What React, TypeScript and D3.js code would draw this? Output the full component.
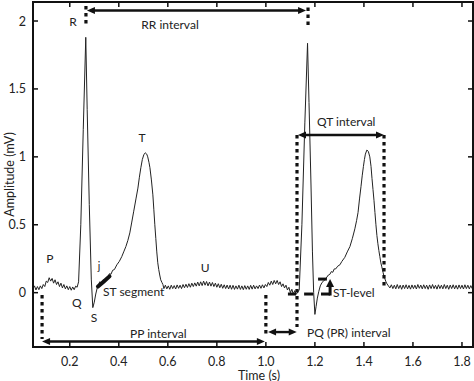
import React from "react";
import * as d3 from "d3";

// ECG trace samples: [time (s), amplitude (mV)]
const ecgSamples: [number, number][] = [
  [0.05, 0.03], [0.056, 0.05], [0.062, 0.02], [0.068, 0.045], [0.074, 0.022], [0.08, 0.05],
  [0.086, 0.03], [0.092, 0.06], [0.098, 0.045], [0.104, 0.085], [0.11, 0.075], [0.116, 0.11],
  [0.122, 0.085], [0.128, 0.105], [0.134, 0.07], [0.14, 0.095], [0.146, 0.06], [0.152, 0.08],
  [0.158, 0.045], [0.164, 0.07], [0.17, 0.035], [0.176, 0.06], [0.182, 0.028], [0.188, 0.05],
  [0.194, 0.022], [0.2, 0.045], [0.206, 0.018], [0.212, 0.042], [0.218, 0.022], [0.224, 0.048],
  [0.23, 0.04],
  // QRS 1
  [0.236, 0.08], [0.245, 0.5], [0.255, 1.2], [0.2653, 1.88], [0.271, 1.35], [0.2796, 0.65],
  [0.2878, 0.1], [0.294, -0.11], [0.3, -0.07], [0.306, -0.01], [0.312, 0.035], [0.318, 0.06],
  [0.322, 0.08],
  // ST / T 1
  [0.33, 0.07], [0.336, 0.095], [0.342, 0.085], [0.348, 0.11], [0.355, 0.115], [0.362, 0.14],
  [0.368, 0.135], [0.375, 0.165], [0.382, 0.17], [0.392, 0.205], [0.402, 0.23], [0.412, 0.265],
  [0.42, 0.3], [0.429, 0.34], [0.437, 0.385], [0.445, 0.44], [0.453, 0.52], [0.461, 0.6],
  [0.47, 0.69], [0.478, 0.77], [0.484, 0.85], [0.49, 0.92], [0.496, 0.98], [0.502, 1.015],
  [0.508, 1.03], [0.514, 1.02], [0.518, 1.0], [0.523, 0.96], [0.527, 0.92], [0.533, 0.83],
  [0.539, 0.72], [0.543, 0.61], [0.547, 0.5], [0.551, 0.4], [0.555, 0.3], [0.559, 0.22],
  [0.563, 0.17], [0.567, 0.13], [0.571, 0.095], [0.576, 0.075], [0.58, 0.06],
  // baseline + U wave
  [0.584, 0.03], [0.59, 0.055], [0.596, 0.028], [0.602, 0.05], [0.608, 0.025], [0.614, 0.055],
  [0.62, 0.03], [0.626, 0.052], [0.632, 0.027], [0.638, 0.057], [0.644, 0.032], [0.65, 0.055],
  [0.656, 0.03], [0.662, 0.06], [0.668, 0.036], [0.674, 0.062], [0.68, 0.038], [0.686, 0.066],
  [0.692, 0.04], [0.698, 0.07], [0.704, 0.045], [0.71, 0.072], [0.716, 0.048], [0.722, 0.078],
  [0.728, 0.05], [0.734, 0.08], [0.74, 0.052], [0.746, 0.085], [0.752, 0.055], [0.758, 0.082],
  [0.764, 0.05], [0.77, 0.078], [0.776, 0.048], [0.782, 0.075], [0.788, 0.045], [0.794, 0.07],
  [0.8, 0.04], [0.806, 0.066], [0.812, 0.036], [0.818, 0.062], [0.824, 0.032], [0.83, 0.058],
  [0.836, 0.03], [0.842, 0.056], [0.848, 0.027], [0.854, 0.055], [0.86, 0.025], [0.866, 0.054],
  [0.872, 0.024], [0.878, 0.05], [0.884, 0.026], [0.89, 0.055], [0.896, 0.024], [0.902, 0.05],
  [0.908, 0.022], [0.914, 0.052], [0.92, 0.025], [0.926, 0.05], [0.932, 0.024], [0.938, 0.054],
  [0.944, 0.026], [0.95, 0.055], [0.956, 0.028], [0.962, 0.05], [0.968, 0.03], [0.974, 0.056],
  [0.98, 0.032], [0.986, 0.058], [0.992, 0.035], [0.998, 0.06],
  // P 2
  [1.004, 0.045], [1.01, 0.075], [1.016, 0.055], [1.022, 0.085], [1.028, 0.06], [1.034, 0.09],
  [1.04, 0.065], [1.046, 0.09], [1.052, 0.06], [1.058, 0.08], [1.064, 0.045], [1.07, 0.065],
  [1.076, 0.035], [1.082, 0.055], [1.088, 0.02], [1.094, 0.04], [1.1, 0.0], [1.106, 0.025],
  [1.112, -0.01], [1.118, 0.015], [1.124, -0.012], [1.13, 0.005],
  // QRS 2
  [1.136, 0.02], [1.147, 0.5], [1.159, 1.25], [1.17, 1.836], [1.176, 1.4], [1.184, 0.8],
  [1.19, 0.3], [1.195, 0.0], [1.2, -0.16], [1.205, -0.1], [1.21, -0.04], [1.216, 0.01],
  [1.222, 0.05], [1.229, 0.075], [1.235, 0.085], [1.241, 0.095],
  // ST / T 2
  [1.249, 0.115], [1.255, 0.13], [1.261, 0.135], [1.267, 0.155], [1.273, 0.15], [1.279, 0.175],
  [1.285, 0.175], [1.293, 0.195], [1.302, 0.205], [1.31, 0.23], [1.322, 0.26], [1.332, 0.3],
  [1.343, 0.34], [1.353, 0.4], [1.363, 0.47], [1.37, 0.53], [1.376, 0.59], [1.382, 0.69],
  [1.388, 0.78], [1.393, 0.86], [1.398, 0.93], [1.402, 0.98], [1.406, 1.02], [1.412, 1.05],
  [1.418, 1.04], [1.424, 1.0], [1.429, 0.93], [1.433, 0.84], [1.437, 0.76], [1.441, 0.68],
  [1.445, 0.59], [1.449, 0.5], [1.453, 0.42], [1.457, 0.36], [1.461, 0.31], [1.465, 0.265],
  [1.469, 0.22], [1.473, 0.19], [1.478, 0.15], [1.482, 0.12], [1.486, 0.1], [1.49, 0.08],
  [1.494, 0.065], [1.5, 0.05],
  // baseline
  [1.506, 0.035], [1.512, 0.058], [1.518, 0.03], [1.524, 0.055], [1.53, 0.028], [1.536, 0.06],
  [1.542, 0.03], [1.548, 0.055], [1.554, 0.025], [1.56, 0.056], [1.566, 0.03], [1.572, 0.058],
  [1.578, 0.028], [1.584, 0.054], [1.59, 0.026], [1.596, 0.057], [1.602, 0.03], [1.608, 0.055],
  [1.614, 0.027], [1.62, 0.06], [1.626, 0.032], [1.632, 0.056], [1.638, 0.028], [1.644, 0.058],
  [1.65, 0.03], [1.656, 0.055], [1.662, 0.025], [1.668, 0.057], [1.674, 0.03], [1.68, 0.06],
  [1.686, 0.03], [1.692, 0.054], [1.698, 0.026], [1.704, 0.058], [1.71, 0.03], [1.716, 0.055],
  [1.722, 0.028], [1.728, 0.06], [1.734, 0.03], [1.74, 0.055], [1.746, 0.025], [1.752, 0.056],
  [1.758, 0.03], [1.764, 0.058], [1.77, 0.028], [1.776, 0.054], [1.782, 0.026], [1.788, 0.057],
  [1.794, 0.03], [1.8, 0.055], [1.806, 0.027], [1.812, 0.058], [1.818, 0.03], [1.824, 0.055],
  [1.83, 0.028], [1.836, 0.052], [1.842, 0.03], [1.845, 0.04],
];

const xTicks = [0.2, 0.4, 0.6, 0.8, 1.0, 1.2, 1.4, 1.6, 1.8];
const yTicks = [0, 0.5, 1, 1.5, 2];

// Interval arrows (double-headed), in data coordinates
const intervalArrows = [
  { name: "RR", t0: 0.27, t1: 1.164, v: 2.077 },
  { name: "PP", t0: 0.087, t1: 0.996, v: -0.36 },
  { name: "PQ", t0: 1.009, t1: 1.126, v: -0.29 },
  { name: "QT", t0: 1.131, t1: 1.482, v: 1.161 },
];

// Dotted guide lines
const dottedGuides = [
  { t: 0.266, v0: 2.11, v1: 1.956 },
  { t: 1.172, v0: 2.1, v1: 1.956 },
  { t: 0.087, v0: -0.017, v1: -0.341 },
  { t: 1.0, v0: -0.017, v1: -0.326 },
  { t: 1.127, v0: 1.161, v1: -0.253 },
  { t: 1.482, v0: 1.161, v1: 0.042 },
];

// ST-level marks
const stLevelDashes = [
  { t0: 1.09, t1: 1.123, v: -0.01 },
  { t0: 1.156, t1: 1.193, v: -0.01 },
  { t0: 1.225, t1: 1.262, v: -0.01 },
  { t0: 1.213, t1: 1.249, v: 0.1 },
];
const stLevelArrow = { t: 1.262, v0: -0.01, v1: 0.1 };
const stSegmentMark: [number, number][] = [[0.315, 0.045], [0.339, 0.082], [0.362, 0.12]];

const waveLabels = [
  { text: "R", t: 0.213, v: 2.0, anchor: "middle", size: 12 },
  { text: "RR interval", t: 0.609, v: 1.971, anchor: "middle", size: 12 },
  { text: "T", t: 0.495, v: 1.146, anchor: "middle", size: 12 },
  { text: "P", t: 0.119, v: 0.255, anchor: "middle", size: 12 },
  { text: "Q", t: 0.229, v: -0.069, anchor: "middle", size: 12 },
  { text: "S", t: 0.299, v: -0.186, anchor: "middle", size: 12 },
  { text: "j", t: 0.319, v: 0.196, anchor: "middle", size: 10.5 },
  { text: "ST segment", t: 0.336, v: 0.012, anchor: "start", size: 12 },
  { text: "U", t: 0.752, v: 0.182, anchor: "middle", size: 12 },
  { text: "PP interval", t: 0.446, v: -0.297, anchor: "start", size: 12 },
  { text: "PQ (PR) interval", t: 1.168, v: -0.29, anchor: "start", size: 12 },
  { text: "QT interval", t: 1.209, v: 1.257, anchor: "start", size: 12 },
  { text: "ST-level", t: 1.274, v: -0.002, anchor: "start", size: 12 },
];

export default function App() {
  const W = 474;
  const H = 381;
  const left = 33, right = 473, top = 2, bottom = 347;
  const x = d3.scaleLinear().domain([0.05, 1.845]).range([left, right]);
  const y = d3.scaleLinear().domain([-0.4, 2.14]).range([bottom, top]);
  const line = d3
    .line<[number, number]>()
    .x((d) => x(d[0]))
    .y((d) => y(d[1]));
  const font = "Lato, 'Open Sans', sans-serif";
  const ink = "#111";
  const headL = 8;
  const headW = 3.5;

  return (
    <svg
      width={W}
      height={H}
      style={{ position: "absolute", left: 0, top: 0, background: "#fff" }}
      fontFamily={font}
    >
      <rect x={0} y={0} width={W} height={H} fill="#fff" />
      {/* trace */}
      <path d={line(ecgSamples) || ""} fill="none" stroke="#222" strokeWidth={1} strokeLinejoin="round" />

      {/* ST segment mark */}
      <path d={line(stSegmentMark) || ""} fill="none" stroke={ink} strokeWidth={4} strokeLinecap="round" />

      {/* dotted guides */}
      {dottedGuides.map((g, i) => (
        <line
          key={"g" + i}
          x1={x(g.t)}
          x2={x(g.t)}
          y1={y(g.v0)}
          y2={y(g.v1)}
          stroke={ink}
          strokeWidth={3.2}
          strokeDasharray="3.5,3.5"
        />
      ))}

      {/* interval arrows */}
      {intervalArrows.map((a) => {
        const xa = x(a.t0), xb = x(a.t1), yy = y(a.v);
        return (
          <g key={a.name}>
            <line x1={xa + headL - 1} x2={xb - headL + 1} y1={yy} y2={yy} stroke={ink} strokeWidth={2.4} />
            <polygon points={`${xa},${yy} ${xa + headL},${yy - headW} ${xa + headL},${yy + headW}`} fill={ink} />
            <polygon points={`${xb},${yy} ${xb - headL},${yy - headW} ${xb - headL},${yy + headW}`} fill={ink} />
          </g>
        );
      })}

      {/* ST-level marks */}
      {stLevelDashes.map((d, i) => (
        <line key={"d" + i} x1={x(d.t0)} x2={x(d.t1)} y1={y(d.v)} y2={y(d.v)} stroke={ink} strokeWidth={3} />
      ))}
      {(() => {
        const xx = x(stLevelArrow.t);
        const y0 = y(stLevelArrow.v0);
        const y1 = y(stLevelArrow.v1);
        return (
          <g>
            <line x1={xx} x2={xx} y1={y0 + 1.5} y2={y1 + headL - 1} stroke={ink} strokeWidth={3} />
            <polygon points={`${xx},${y1} ${xx - headW - 0.5},${y1 + headL} ${xx + headW + 0.5},${y1 + headL}`} fill={ink} />
          </g>
        );
      })()}

      {/* labels */}
      {waveLabels.map((l) => (
        <text
          key={l.text}
          x={x(l.t)}
          y={y(l.v)}
          textAnchor={l.anchor as any}
          dominantBaseline="central"
          fontSize={l.size}
          fill="#222"
        >
          {l.text}
        </text>
      ))}

      {/* frame */}
      <rect x={left} y={top} width={right - left} height={bottom - top} fill="none" stroke={ink} strokeWidth={2} />

      {/* ticks */}
      {xTicks.map((t) => (
        <g key={"xt" + t}>
          <line x1={x(t)} x2={x(t)} y1={bottom} y2={bottom - 5} stroke={ink} strokeWidth={1.5} />
          <line x1={x(t)} x2={x(t)} y1={top} y2={top + 5} stroke={ink} strokeWidth={1.5} />
          <text x={x(t)} y={bottom + 14} textAnchor="middle" dominantBaseline="central" fontSize={12.5} fill="#222">
            {d3.format(".1f")(t)}
          </text>
        </g>
      ))}
      {yTicks.map((v) => (
        <g key={"yt" + v}>
          <line x1={left} x2={left + 5} y1={y(v)} y2={y(v)} stroke={ink} strokeWidth={1.5} />
          <line x1={right} x2={right - 5} y1={y(v)} y2={y(v)} stroke={ink} strokeWidth={1.5} />
          <text x={left - 7} y={y(v)} textAnchor="end" dominantBaseline="central" fontSize={12.5} fill="#222">
            {String(v)}
          </text>
        </g>
      ))}

      {/* axis titles */}
      <text x={(left + right) / 2 + 6} y={375} textAnchor="middle" dominantBaseline="central" fontSize={12.5} fill="#222">
        Time (s)
      </text>
      <text
        transform={`translate(9, ${(top + bottom) / 2}) rotate(-90)`}
        textAnchor="middle"
        dominantBaseline="central"
        fontSize={12.5}
        fill="#222"
      >
        Amplitude (mV)
      </text>
    </svg>
  );
}
